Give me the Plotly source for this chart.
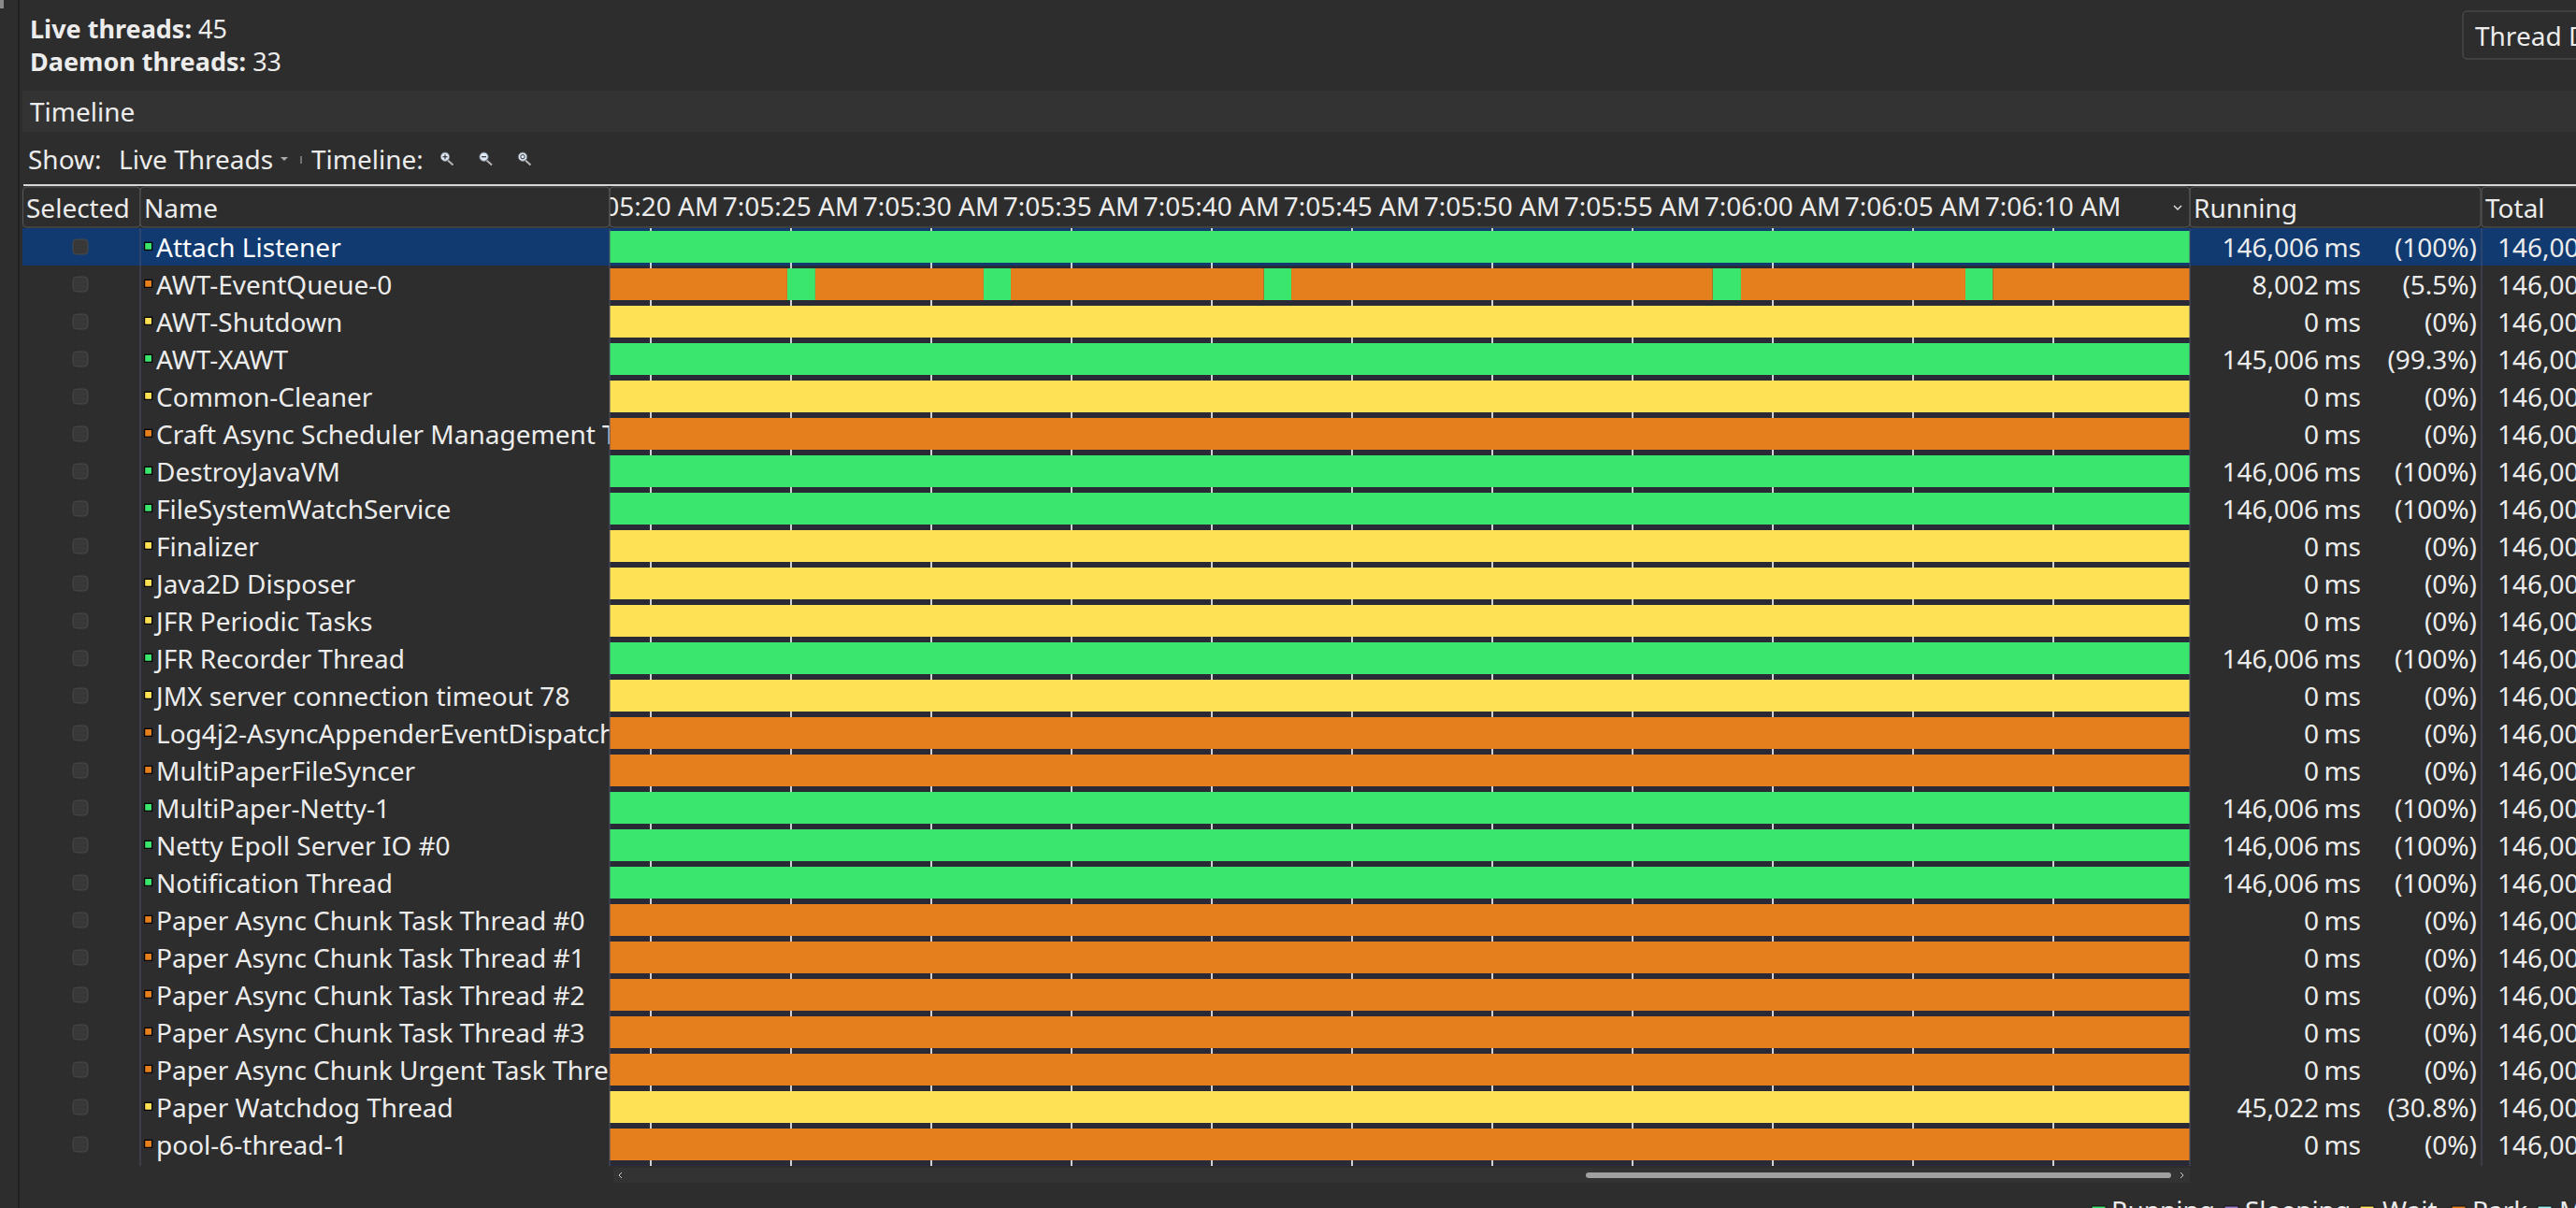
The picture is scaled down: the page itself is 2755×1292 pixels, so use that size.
from datetime import datetime

import plotly.graph_objects as go

W = 2755
H = 1292

thread_names = [
    "Attach Listener", "AWT-EventQueue-0", "AWT-Shutdown", "AWT-XAWT", "Common-Cleaner",
    "Craft Async Scheduler Management Thread", "DestroyJavaVM", "FileSystemWatchService",
    "Finalizer", "Java2D Disposer", "JFR Periodic Tasks", "JFR Recorder Thread",
    "JMX server connection timeout 78", "Log4j2-AsyncAppenderEventDispatcher",
    "MultiPaperFileSyncer", "MultiPaper-Netty-1", "Netty Epoll Server IO #0",
    "Notification Thread", "Paper Async Chunk Task Thread #0", "Paper Async Chunk Task Thread #1",
    "Paper Async Chunk Task Thread #2", "Paper Async Chunk Task Thread #3",
    "Paper Async Chunk Urgent Task Thread", "Paper Watchdog Thread", "pool-6-thread-1",
]
thread_states = [
    "Running", "Park", "Wait", "Running", "Wait", "Park", "Running", "Running", "Wait", "Wait",
    "Wait", "Running", "Wait", "Park", "Park", "Running", "Running", "Running", "Park", "Park",
    "Park", "Park", "Park", "Wait", "Park",
]
running_ms = [
    "146,006", "8,002", "0", "145,006", "0", "0", "146,006", "146,006", "0", "0", "0", "146,006",
    "0", "0", "0", "146,006", "146,006", "146,006", "0", "0", "0", "0", "0", "45,022", "0",
]
running_pct = [
    "(100%)", "(5.5%)", "(0%)", "(99.3%)", "(0%)", "(0%)", "(100%)", "(100%)", "(0%)", "(0%)",
    "(0%)", "(100%)", "(0%)", "(0%)", "(0%)", "(100%)", "(100%)", "(100%)", "(0%)", "(0%)",
    "(0%)", "(0%)", "(0%)", "(30.8%)", "(0%)",
]
total_ms = ["146,006 ms"] * len(thread_names)

timeline_start = "2022-06-10 07:05:18.55"
timeline_end = "2022-06-10 07:06:14.88"
# AWT-EventQueue-0 wakes up for about a second at a time
eventqueue_run_starts = [
    "2022-06-10 07:05:24.88", "2022-06-10 07:05:31.88", "2022-06-10 07:05:41.87",
    "2022-06-10 07:05:57.87", "2022-06-10 07:06:06.88",
]
eventqueue_run_ends = [
    "2022-06-10 07:05:25.88", "2022-06-10 07:05:32.85", "2022-06-10 07:05:42.85",
    "2022-06-10 07:05:58.88", "2022-06-10 07:06:07.86",
]
legend_states = ["Running", "Sleeping", "Wait", "Park", "Monitor"]

state_colors = {
    "Running": "#3ae66b",
    "Sleeping": "#9a80d6",
    "Wait": "#ffe156",
    "Park": "#e57f1d",
    "Monitor": "#8ff0ee",
}
BG = "#2d2d2d"
GAP = "#2a2a36"
SELECT = "#103a70"
TEXT = "#ececec"
FONT = "Noto Sans"
SIZE = 28
TEXT_DROP = 0.09  # row text sits a little under the row middle
rows = list(range(len(thread_names)))
text_rows = [r + TEXT_DROP for r in rows]


def px_x(x):
    return x / W


def px_y(y):
    return 1 - y / H


def ms(a, b):
    fmt = "%Y-%m-%d %H:%M:%S.%f"
    return (datetime.strptime(b, fmt) - datetime.strptime(a, fmt)).total_seconds() * 1000


def round_path(x0, y0, x1, y1, r):
    xa, xb = px_x(x0), px_x(x1)
    ya, yb = px_y(y0), px_y(y1)
    rx, ry = r / W, r / H
    return (f"M{xa + rx},{ya} L{xb - rx},{ya} Q{xb},{ya} {xb},{ya - ry} L{xb},{yb + ry} "
            f"Q{xb},{yb} {xb - rx},{yb} L{xa + rx},{yb} Q{xa},{yb} {xa},{yb + ry} "
            f"L{xa},{ya - ry} Q{xa},{ya} {xa + rx},{ya} Z")


def checkbox_path(row):
    # x2 is in pixels, a row is 40 px tall
    xa, xb = 78, 94
    ya, yb = row - 0.2, row + 0.2
    rx, ry = 4, 0.1
    return (f"M{xa + rx},{ya} L{xb - rx},{ya} Q{xb},{ya} {xb},{ya + ry} L{xb},{yb - ry} "
            f"Q{xb},{yb} {xb - rx},{yb} L{xa + rx},{yb} Q{xa},{yb} {xa},{yb - ry} "
            f"L{xa},{ya + ry} Q{xa},{ya} {xa + rx},{ya} Z")


def rect(x0, y0, x1, y1, fill, layer="below"):
    return dict(type="rect", xref="paper", yref="paper", x0=px_x(x0), x1=px_x(x1),
                y0=px_y(y0), y1=px_y(y1), fillcolor=fill, line_width=0, layer=layer)


def seg(x0, y0, x1, y1, color, width=1, layer="above"):
    return dict(type="line", xref="paper", yref="paper", x0=px_x(x0), x1=px_x(x1),
                y0=px_y(y0), y1=px_y(y1), line=dict(color=color, width=width), layer=layer)


def label(x, y, text, color=TEXT, size=SIZE, anchor="left"):
    return dict(xref="paper", yref="paper", x=px_x(x), y=px_y(y), text=text, showarrow=False,
                xanchor=anchor, yanchor="middle", borderpad=0, borderwidth=0,
                font=dict(family=FONT, size=size, color=color))


# one bar per stretch of a thread's timeline
segments = {s: dict(y=[], base=[], x=[]) for s in state_colors}
for i, state in enumerate(thread_states):
    if thread_names[i] == "AWT-EventQueue-0":
        cursor = timeline_start
        for a, b in zip(eventqueue_run_starts, eventqueue_run_ends):
            segments[state]["y"].append(i)
            segments[state]["base"].append(cursor)
            segments[state]["x"].append(ms(cursor, a))
            segments["Running"]["y"].append(i)
            segments["Running"]["base"].append(a)
            segments["Running"]["x"].append(ms(a, b))
            cursor = b
        segments[state]["y"].append(i)
        segments[state]["base"].append(cursor)
        segments[state]["x"].append(ms(cursor, timeline_end))
    else:
        segments[state]["y"].append(i)
        segments[state]["base"].append(timeline_start)
        segments[state]["x"].append(ms(timeline_start, timeline_end))

fig = go.Figure()
for state, d in segments.items():
    if d["y"]:
        fig.add_trace(go.Bar(y=d["y"], x=d["x"], base=d["base"], orientation="h", width=0.85,
                             marker=dict(color=state_colors[state], line_width=0),
                             name=state, hoverinfo="skip"))

# left columns, x axis here is just pixels so the names clip at the column edge
fig.add_trace(go.Scatter(x=[158.6] * len(rows), y=[r - 0.015 for r in rows], xaxis="x2", yaxis="y",
                         mode="markers",
                         marker=dict(symbol="square", size=8,
                                     color=[state_colors[s] for s in thread_states],
                                     line=dict(color="#000000", width=1.2)), hoverinfo="skip"))
fig.add_trace(go.Scatter(x=[167] * len(rows), y=text_rows, xaxis="x2", yaxis="y", mode="text",
                         text=thread_names, textposition="middle right",
                         textfont=dict(family=FONT, size=SIZE,
                                       color=["#ffffff"] + [TEXT] * (len(rows) - 1)),
                         hoverinfo="skip"))

# right columns
fig.add_trace(go.Scatter(x=[2480] * len(rows), y=text_rows, xaxis="x3", yaxis="y", mode="text",
                         text=running_ms, textposition="middle left",
                         textfont=dict(family=FONT, size=SIZE, color=TEXT), hoverinfo="skip"))
fig.add_trace(go.Scatter(x=[2525] * len(rows), y=text_rows, xaxis="x3", yaxis="y", mode="text",
                         text=["ms"] * len(rows), textposition="middle left",
                         textfont=dict(family=FONT, size=SIZE, color=TEXT), hoverinfo="skip"))
fig.add_trace(go.Scatter(x=[2649] * len(rows), y=text_rows, xaxis="x3", yaxis="y", mode="text",
                         text=running_pct, textposition="middle left",
                         textfont=dict(family=FONT, size=SIZE, color=TEXT), hoverinfo="skip"))
fig.add_trace(go.Scatter(x=[2671] * len(rows), y=text_rows, xaxis="x3", yaxis="y", mode="text",
                         text=total_ms, textposition="middle right",
                         textfont=dict(family=FONT, size=SIZE, color=TEXT), hoverinfo="skip"))

shapes = [
    rect(0, 0, 4, 9, "#8a8a8a"),
    rect(24, 97, W, 141, "#333333"),
    rect(652, 244, 2342, 1247, GAP),
    rect(24, 244, W, 284, SELECT),
    seg(20, 0, 20, H, "#151515", 1),
    seg(25, 198, W, 198, "#d6d6d6", 2),
    seg(322, 167, 322, 175, "#bbbbbb", 1),
    # scrollbar
    rect(656, 1249, 2342, 1265, "#333333"),
    dict(type="path", xref="paper", yref="paper", path=round_path(1696, 1254, 2322, 1260, 3),
         fillcolor="#a0a0a0", line_width=0, layer="above"),
    dict(type="path", xref="paper", yref="paper", line=dict(color="#cfcfcf", width=1),
         path=f"M{px_x(665)},{px_y(1254)} L{px_x(662)},{px_y(1257)} L{px_x(665)},{px_y(1260)}"),
    dict(type="path", xref="paper", yref="paper", line=dict(color="#cfcfcf", width=1),
         path=f"M{px_x(2332)},{px_y(1254)} L{px_x(2335)},{px_y(1257)} L{px_x(2332)},{px_y(1260)}"),
    # dropdown arrow + header chevron
    dict(type="path", xref="paper", yref="paper", fillcolor="#aaaaaa", line_width=0, layer="above",
         path=f"M{px_x(300)},{px_y(168)} L{px_x(308)},{px_y(168)} L{px_x(304)},{px_y(172)} Z"),
    dict(type="path", xref="paper", yref="paper", line=dict(color="#dddddd", width=1.5), layer="above",
         path=f"M{px_x(2325)},{px_y(220)} L{px_x(2329)},{px_y(224)} L{px_x(2333)},{px_y(220)}"),
    # thread dump button
    dict(type="path", xref="paper", yref="paper", path=round_path(2634, 12, 2775, 63, 5),
         fillcolor=BG, line=dict(color="#555555", width=1), layer="below"),
]
# column separators over the rows
for cx in [150, 652, 2342, 2654]:
    shapes.append(seg(cx, 244, cx, 1247, "#4a5068", 1))

# selection checkboxes
for r in rows:
    shapes.append(dict(type="path", xref="x2", yref="y", path=checkbox_path(r),
                       fillcolor="#383838", line=dict(color="#484848", width=1), layer="above"))

# header cells, the Name one also hides the first time label
for x0, x1, fill in [(24.5, 150, BG), (150, 652, BG), (2342, 2653, BG), (2654, 2775, BG)]:
    shapes.append(dict(type="path", xref="paper", yref="paper", path=round_path(x0, 200, x1, 243, 4),
                       fillcolor=fill, line=dict(color="#565656", width=1), layer="above"))
shapes.append(dict(type="path", xref="paper", yref="paper", path=round_path(652, 200, 2342, 243, 4),
                   line=dict(color="#565656", width=1), layer="above"))

# zoom icons
for ix, glyph in zip([476, 517.5, 559], ["+", "-", "o"]):
    shapes.append(seg(ix + 3, 171.5, ix + 8.5, 176.5, "#b5b5b5", 2))
    shapes.append(dict(type="circle", xref="paper", yref="paper", x0=px_x(ix - 4.7), x1=px_x(ix + 4.7),
                       y0=px_y(163), y1=px_y(172.4), fillcolor="#dfe8f5",
                       line=dict(color="#6f7680", width=1), layer="above"))
    if glyph == "o":
        shapes.append(dict(type="circle", xref="paper", yref="paper", x0=px_x(ix - 2.2), x1=px_x(ix + 2.2),
                           y0=px_y(165.5), y1=px_y(169.9), fillcolor="#dfe8f5",
                           line=dict(color="#333333", width=1), layer="above"))
    else:
        shapes.append(seg(ix - 2.5, 167.7, ix + 2.5, 167.7, "#333333", 1.2))
    if glyph == "+":
        shapes.append(seg(ix, 165.2, ix, 170.2, "#333333", 1.2))

# legend squares along the bottom edge
for lx, st in zip([2237, 2379, 2524, 2622, 2714], legend_states):
    shapes.append(dict(type="rect", xref="paper", yref="paper", x0=px_x(lx), x1=px_x(lx + 15),
                       y0=px_y(1290), y1=px_y(1305), fillcolor=state_colors[st],
                       line=dict(color="#111111", width=1), layer="above"))

annotations = [
    label(31.5, 30, "<b>Live threads:</b> 45", size=27),
    label(31.5, 65, "<b>Daemon threads:</b> 33", size=27),
    label(31.5, 119.5, "Timeline"),
    label(30, 170.5, "Show:"),
    label(126.5, 170.5, "Live Threads"),
    label(333, 170.5, "Timeline:"),
    label(2647, 38, "Thread Dump"),
    label(28, 222, "Selected"),
    label(154, 222, "Name"),
    label(2346, 222, "Running"),
    label(2658, 222, "Total"),
]
for lx, st in zip([2258, 2401, 2548, 2644, 2737], legend_states):
    annotations.append(label(lx, 1294, st))

fig.update_layout(
    width=W, height=H, margin=dict(l=0, r=0, t=0, b=0, autoexpand=False), showlegend=False,
    paper_bgcolor=BG, plot_bgcolor=BG, barmode="overlay",
    shapes=shapes, annotations=annotations,
    font=dict(family=FONT, size=SIZE, color=TEXT),
    xaxis=dict(type="date", domain=[652 / W, 2342 / W], range=[timeline_start, timeline_end],
               side="top", anchor="y", dtick=5000, tick0="2022-06-10 07:05:00",
               tickformat="%-I:%M:%S %p", tickangle=0, ticks="outside", ticklen=1,
               tickcolor="rgba(0,0,0,0)",
               ticklabeloverflow="allow", showgrid=True, gridcolor="#d0d0d0", gridwidth=1.5,
               zeroline=False, showline=False, tickfont=dict(family=FONT, size=SIZE, color=TEXT)),
    xaxis2=dict(domain=[0, 652 / W], range=[0, 652], visible=False, anchor="y"),
    xaxis3=dict(domain=[2342 / W, 1], range=[2342, W], visible=False, anchor="y"),
    yaxis=dict(domain=[1 - 1247 / H, 1 - 244 / H], range=[24.575, -0.5], visible=False, anchor="x"),
)

fig.write_html("out.html", config=dict(displayModeBar=False),
               post_script="document.body.style.margin='0';document.body.style.background='#2d2d2d';")
